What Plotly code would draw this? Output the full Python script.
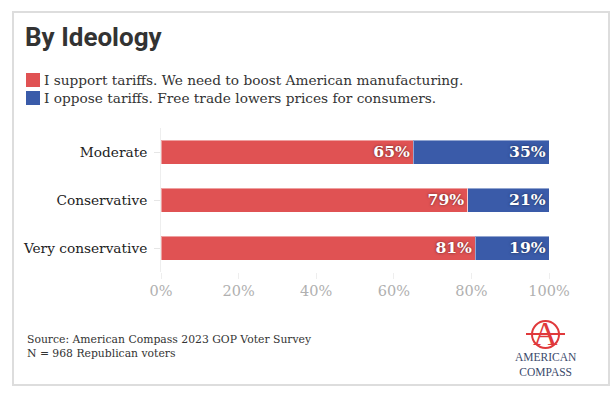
import plotly.graph_objects as go

categories = ["Moderate", "Conservative", "Very conservative"]
support = [65, 79, 81]
oppose = [35, 21, 19]
series_names = ["I support tariffs. We need to boost American manufacturing.",
                "I oppose tariffs. Free trade lowers prices for consumers."]
tick_vals = [0, 20, 40, 60, 80, 100]
tick_text = ["0%", "20%", "40%", "60%", "80%", "100%"]

RED = "#E05253"
BLUE = "#3A5BA9"
W, H = 616, 396
L, R, T, B = 161, 67, 128, 124
PW, PH = W - L - R, H - T - B

def px(x):
    return (x - L) / PW

def py(y):
    return (H - B - y) / PH

SERIF = "DejaVu Serif"

fig = go.Figure()
for name, vals, col in [(series_names[0], support, RED), (series_names[1], oppose, BLUE)]:
    fig.add_trace(go.Bar(
        y=categories, x=vals, name=name, orientation="h",
        marker=dict(color=col, line=dict(color="rgba(255,255,255,0.45)", width=1)),
        width=0.5,
        text=[f"{v}%" for v in vals], textposition="inside", insidetextanchor="end",
        textfont=dict(family=SERIF, size=16.5, color="white", weight="bold",
                      shadow="0px 0px 3px rgba(0,0,0,0.55)"),
        cliponaxis=False, showlegend=False,
    ))

fig.update_layout(
    width=W, height=H, barmode="stack",
    margin=dict(l=L, r=R, t=T, b=B),
    paper_bgcolor="white", plot_bgcolor="white",
    xaxis=dict(range=[0, 100], tickvals=tick_vals, ticktext=tick_text,
               showgrid=False, zeroline=False, ticks="outside", ticklen=6,
               tickcolor="#eeeeee", tickfont=dict(family=SERIF, size=14.5, color="#b0b0b0"),
               fixedrange=True),
    yaxis=dict(autorange="reversed", showgrid=False, zeroline=False,
               showline=True, linecolor="#eeeeee", ticks="outside", ticklen=6,
               tickcolor="#e6e6e6", ticklabelstandoff=4,
               tickfont=dict(family=SERIF, size=13.7, color="#222222")),
    font=dict(family=SERIF),
)

shapes = []
# outer border
shapes.append(dict(type="rect", xref="paper", yref="paper",
                   x0=px(13), x1=px(609), y0=py(12), y1=py(385),
                   line=dict(color="#dddddd", width=2), fillcolor="rgba(0,0,0,0)", layer="below"))
# legend squares
for (y0, y1, col) in [(73, 87, RED), (91, 105, BLUE)]:
    shapes.append(dict(type="rect", xref="paper", yref="paper",
                       x0=px(26), x1=px(40), y0=py(y1), y1=py(y0),
                       line=dict(width=0), fillcolor=col))
# logo: circle and bar
shapes.append(dict(type="circle", xref="paper", yref="paper",
                   x0=px(532), x1=px(559), y0=py(348), y1=py(321),
                   line=dict(color="#E0393B", width=2)))
shapes.append(dict(type="line", xref="paper", yref="paper",
                   x0=px(526), x1=px(565), y0=py(334), y1=py(334),
                   line=dict(color="#E0393B", width=2)))

ann = []
ann.append(dict(text="<b>By Ideology</b>", x=px(23), y=py(54), xanchor="left", yanchor="bottom",
                xref="paper", yref="paper", showarrow=False,
                font=dict(family="Roboto", size=26, color="#333333")))
for yy, name in [(80, series_names[0]), (98, series_names[1])]:
    ann.append(dict(text=name, x=px(42), y=py(yy), xanchor="left", yanchor="middle",
                    xref="paper", yref="paper", showarrow=False,
                    font=dict(family=SERIF, size=13.7, color="#333333")))
ann.append(dict(text="Source: American Compass 2023 GOP Voter Survey<br>N = 968 Republican voters",
                x=px(25), y=py(346), xanchor="left", yanchor="middle", align="left",
                xref="paper", yref="paper", showarrow=False,
                font=dict(family=SERIF, size=10.8, color="#333333")))
ann.append(dict(text="A", x=px(545.5), y=py(333), xanchor="center", yanchor="middle",
                xref="paper", yref="paper", showarrow=False,
                font=dict(family="Liberation Serif", size=34, color="#E0393B")))
ann.append(dict(text="AMERICAN<br>COMPASS", x=px(545.5), y=py(364), xanchor="center", yanchor="middle",
                align="center", xref="paper", yref="paper", showarrow=False,
                font=dict(family="Liberation Serif", size=11.5, color="#3B4A6B")))
fig.update_layout(shapes=shapes, annotations=ann)

fig.write_html("out.html", config={"displayModeBar": False})

with open("out.html", "r", encoding="utf-8") as f:
    html = f.read()
html = html.replace("<head>", "<head><style>html,body{margin:0;padding:0;overflow:hidden;}</style>", 1)
with open("out.html", "w", encoding="utf-8") as f:
    f.write(html)
